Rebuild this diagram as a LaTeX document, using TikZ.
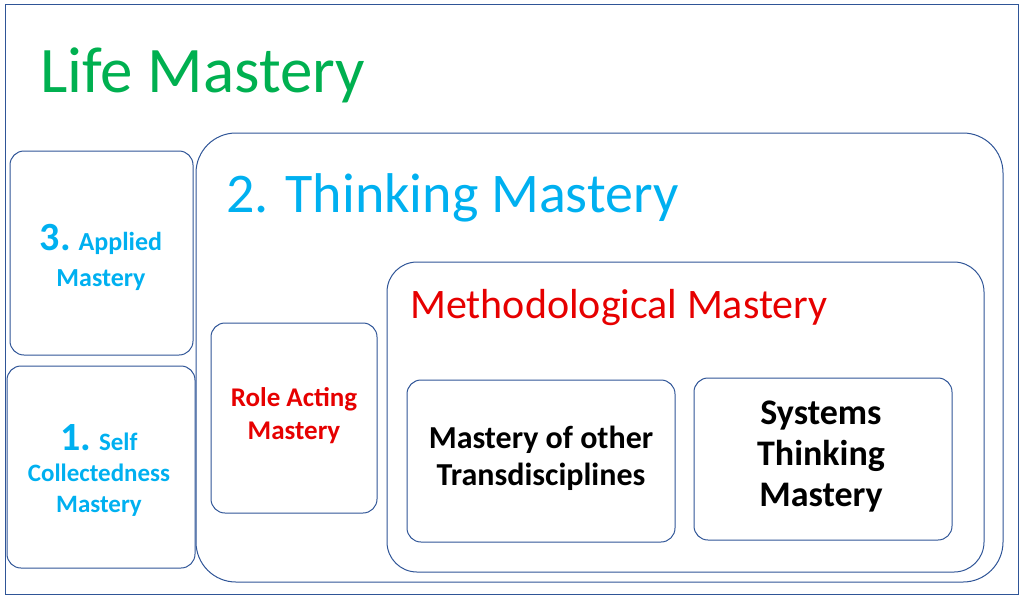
\documentclass[tikz,border=0pt]{standalone}
\usepackage{fontspec}
\setmainfont{Carlito}
\definecolor{bx}{RGB}{47,85,151}
\definecolor{gr}{RGB}{0,176,80}
\definecolor{cy}{RGB}{0,176,240}
\definecolor{rd}{RGB}{230,0,0}
\begin{document}
\begin{tikzpicture}[x=1pt,y=-1pt,
  box/.style={draw=bx,line width=1pt,rounded corners=#1},
  box/.default=14pt]
\useasboundingbox (0,0) rectangle (1024,598);
\draw[bx,line width=1pt] (5,4) rectangle (1018,594);
\node[anchor=base west,text=gr,font=\fontsize{65}{70}\selectfont,inner sep=0pt] (life) at (40,92) {Life Mastery};
\draw[box] (10,151) rectangle (193,355);
\draw[box] (7,366) rectangle (195,568);
\draw[box=40pt] (196,133) rectangle (1003,582);
\draw[box=30pt] (387,262) rectangle (984,572);
\draw[box] (211,323) rectangle (377,513);
\draw[box] (407,380) rectangle (675,542);
\draw[box] (694,378) rectangle (952,540);
\node[anchor=base west,text=cy,font=\fontsize{56}{60}\selectfont,inner sep=0pt] (think) at (226,212) {2. Thinking Mastery};
\node[anchor=base west,text=rd,font=\fontsize{42}{46}\selectfont,inner sep=0pt] (meth) at (410,318) {Methodological Mastery};
\node[text=cy,font=\bfseries\fontsize{26}{36}\selectfont,align=center] (app) at (101,257) {{\fontsize{40}{36}\selectfont 3.} Applied\\Mastery};
\node[text=cy,font=\bfseries\fontsize{25}{31}\selectfont,align=center] (self) at (99,470) {{\fontsize{40}{31}\selectfont 1.} Self\\Collectedness\\Mastery};
\node[text=rd,font=\bfseries\fontsize{27}{33}\selectfont,align=center] (role) at (294,416) {Role Acting\\Mastery};
\node[text=black,font=\bfseries\fontsize{32}{37}\selectfont,align=center] (other) at (541,458) {Mastery of other\\Transdisciplines};
\node[text=black,font=\bfseries\fontsize{36}{41}\selectfont,align=center] (sys) at (821,457) {Systems\\Thinking\\Mastery};
\end{tikzpicture}
\end{document}
